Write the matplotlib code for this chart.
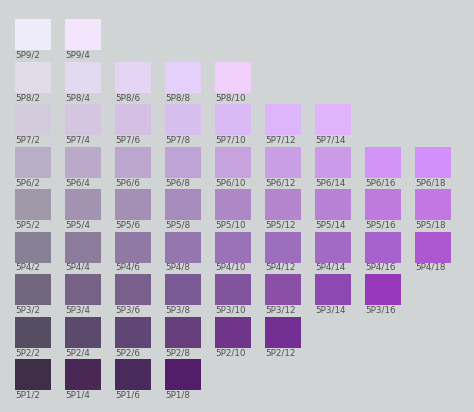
import matplotlib
matplotlib.use("Agg")
from matplotlib import pyplot as plt

hue = "5P"
values = [9, 8, 7, 6, 5, 4, 3, 2, 1]
chromas = [2, 4, 6, 8, 10, 12, 14, 16, 18]

# colours per value row, in order of chroma
colors = {
    9: ["#efecf9", "#f3e6fc"],
    8: ["#e2dbe8", "#e1daf1", "#e4d5f5", "#e4d0fb", "#f0cffb"],
    7: ["#d3cbdb", "#d4c5e0", "#d5c0e4", "#d6bfec", "#dab9f4", "#dcb5fb", "#e0b3fb"],
    6: ["#b8aec5", "#bba9c9", "#bda6cd", "#c0a3d6", "#c6a2de", "#c99ee4", "#cb9ae9", "#d394f7", "#d38ffa"],
    5: ["#9f98a8", "#a294b0", "#a48fb5", "#a88bbd", "#ae88c6", "#b484cd", "#b881d5", "#bf7ade", "#c377e1"],
    4: ["#888095", "#8b7c9c", "#9079a4", "#9576ad", "#9a73b6", "#9d6ebb", "#a36ac3", "#a862cd", "#ad58d0"],
    3: ["#72667d", "#766286", "#79608c", "#7c5a95", "#82549e", "#8a4fa6", "#8e48b2", "#9638b8"],
    2: ["#554e63", "#5c4a6d", "#5f4674", "#663e7c", "#70358a", "#732f92"],
    1: ["#3e2e48", "#4a2856", "#4a2a5d", "#521e6a"],
}

fig = plt.figure(figsize=(4.74, 4.12), dpi=100, facecolor="#d1d4d4")
ax = fig.add_axes([0, 0, 1, 1])
ax.set_facecolor("#d1d4d4")
ax.set_xlim(0, 474)
ax.set_ylim(412, 0)
ax.axis("off")

for row, v in enumerate(values):
    top = 19 + row * 42.5
    for col, c in enumerate(colors[v]):
        left = 15 + col * 50
        ax.bar(left, 31, width=36, bottom=top, align="edge", color=c)
        ax.text(left, top + 31.5, f"{hue}{v}/{chromas[col]}", fontsize=6.3,
                color="#505050", va="top", ha="left")

fig.savefig("out.png", dpi=100, facecolor="#d1d4d4")
